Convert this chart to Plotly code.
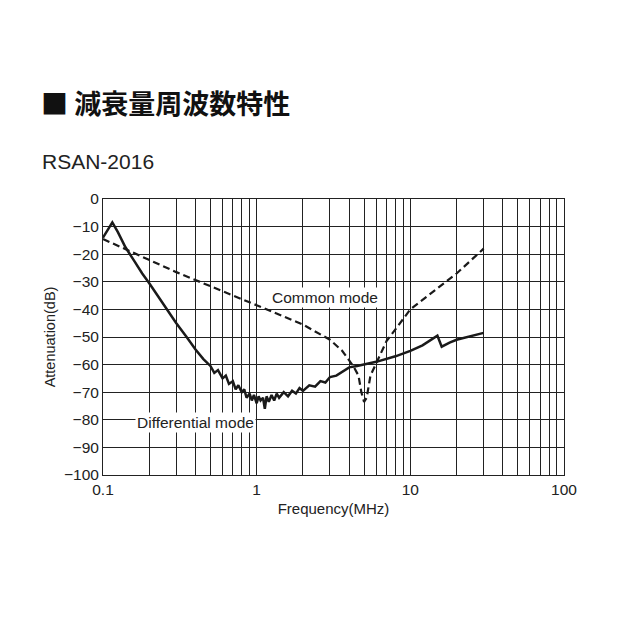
import plotly.graph_objects as go

dm_f = [0.1, 0.108, 0.115, 0.125, 0.14, 0.16, 0.18, 0.2, 0.25, 0.3, 0.35, 0.4, 0.45, 0.5, 0.53, 0.56, 0.6, 0.63, 0.66, 0.7, 0.73, 0.76, 0.8, 0.83, 0.86, 0.9, 0.93, 0.96, 1.0, 1.03, 1.06, 1.1, 1.13, 1.16, 1.2, 1.25, 1.3, 1.35, 1.4, 1.5, 1.6, 1.7, 1.8, 1.9, 2.0, 2.2, 2.4, 2.6, 2.8, 3.0, 3.3, 3.6, 4.0, 4.5, 5.0, 6.0, 8.0, 10.0, 12.0, 15.0, 16.0, 18.0, 20.0, 25.0, 30.0]
dm_v = [-14, -11, -8.5, -12, -17.5, -22.5, -27, -30.5, -38.5, -45, -50, -54.5, -58, -60.5, -63, -62, -65, -64, -67, -66, -69, -67.5, -70, -69, -72, -70.5, -73, -71, -74, -71.5, -73, -72, -76, -71.5, -73.5, -71, -73, -70.5, -72, -70, -71.5, -69.5, -70.5, -68.5, -69.5, -67.5, -68, -66, -66.5, -64.5, -64, -62.5, -61, -60.5, -60, -59, -57, -55, -53, -49.5, -53.5, -52, -51, -49.5, -48.5]

cm_f = [0.1, 0.3, 1.0, 2.0, 3.0, 3.6, 4.0, 4.3, 4.6, 4.8, 5.0, 5.2, 5.5, 6.0, 7.0, 10.0, 20.0, 30.0]
cm_v = [-14.5, -26.5, -38.5, -45.5, -51, -55, -58.5, -61, -64, -70, -73.5, -72, -64, -59.5, -51.5, -40, -27, -18]

x_grid = [0.1,0.2,0.3,0.4,0.5,0.6,0.7,0.8,0.9,1,2,3,4,5,6,7,8,9,10,20,30,40,50,60,70,80,90,100]
x_text = ["0.1"]+[""]*8+["1"]+[""]*8+["10"]+[""]*8+["100"]
y_ticks = list(range(-100, 1, 10))
y_text = ["0" if v == 0 else "−" + str(-v) for v in y_ticks]

fig = go.Figure()
fig.add_trace(go.Scatter(x=dm_f, y=dm_v, mode="lines", line=dict(color="#1a1a1a", width=2.5)))
fig.add_trace(go.Scatter(x=cm_f, y=cm_v, mode="lines", line=dict(color="#1a1a1a", width=2.2, dash="7px,4px")))

lab = dict(family="Liberation Sans, Arial", size=15.5, color="#222")
fig.add_annotation(x=0.447, y=-35.6, xref="x", yref="y", showarrow=False, text="Common mode",
                   font=lab, bgcolor="white")
fig.add_annotation(x=-0.396, y=-81, xref="x", yref="y", showarrow=False, text="Differential mode",
                   font=lab, bgcolor="white")
fig.add_annotation(text="■ 減衰量周波数特性", x=-0.138, y=1.348, xref="paper", yref="paper",
                   xanchor="left", yanchor="middle", showarrow=False,
                   font=dict(family="Noto Sans CJK JP", size=27, color="#111", weight="bold"))
fig.add_annotation(text="RSAN-2016", x=-0.136, y=1.137, xref="paper", yref="paper",
                   xanchor="left", yanchor="middle", showarrow=False,
                   font=dict(family="Liberation Sans, Arial", size=21, color="#222"))

fig.update_layout(
    width=629, height=629, showlegend=False,
    paper_bgcolor="white", plot_bgcolor="white",
    margin=dict(l=95, r=73, t=191, b=162, autoexpand=False),
    font=dict(family="Liberation Sans, Arial", color="#222", size=15.5),
)
fig.update_xaxes(type="log", range=[-1, 2], tickvals=x_grid, ticktext=x_text, showgrid=True, automargin=False,
                 gridcolor="#222", gridwidth=1, showline=True, linecolor="#222", mirror=True,
                 ticks="", title=dict(text="Frequency(MHz)", font=dict(size=15), standoff=6), zeroline=False)
fig.update_yaxes(range=[-100, 0], tickvals=y_ticks, ticktext=y_text, automargin=False,
                 showgrid=True, gridcolor="#222", gridwidth=1, showline=True, linecolor="#222", mirror=True,
                 ticks="", zeroline=False, title=dict(text="Attenuation(dB)", font=dict(size=14.5), standoff=4))
fig.write_html("out.html")
